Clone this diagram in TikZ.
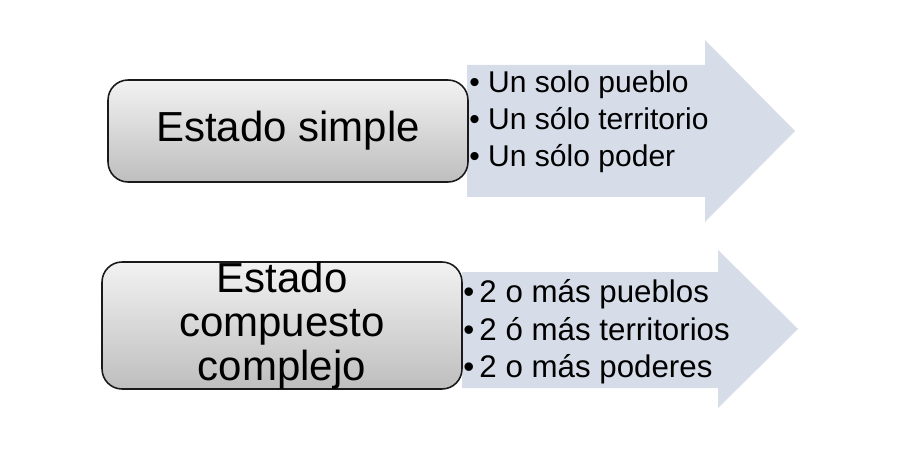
\documentclass[tikz,border=0pt]{standalone}
\usepackage{fontspec}
\setmainfont{Liberation Sans}
\definecolor{arrowfill}{HTML}{D6DCE8}
\definecolor{boxtop}{HTML}{F2F2F2}
\definecolor{boxbottom}{HTML}{BEBEBE}
\definecolor{boxline}{HTML}{1A1A1A}

\begin{document}
\begin{tikzpicture}[x=0.02cm, y=-0.02cm,
    estado/.style={draw=boxline, line width=0.9pt, rounded corners=0.4cm,
        top color=boxtop, bottom color=boxbottom, minimum width=7.2cm,
        align=center, inner sep=0pt, font=\fontsize{23.9}{25}\selectfont},
    item/.style={anchor=base west, inner sep=0pt,
        font=\fontsize{17.1}{21}\selectfont}]

    \useasboundingbox (0,0) rectangle (902,459);

    % arrows go first, the boxes sit on their tails
    \fill[arrowfill] (467,65) -- (705,65) -- (705,40) -- (795,131)
        -- (705,222) -- (705,197) -- (467,197) -- cycle;
    \fill[arrowfill] (462,272) -- (718,272) -- (718,250) -- (798,329)
        -- (718,408) -- (718,388) -- (462,388) -- cycle;

    \node[estado, minimum height=2.04cm] (simple) at (288,131) {Estado simple};
    \node[estado, minimum height=2.42cm] (compuesto) at (282,325.5)
        {Estado\\compuesto\\complejo};

    \foreach \txt [count=\i] in {Un solo pueblo, Un sólo territorio, Un sólo poder}
        \node[item] (simple\i) at (469,{56+37*\i}) {• \txt};

    \foreach \txt [count=\i] in {2 o más pueblos, 2 ó más territorios, 2 o más poderes}
        \node[item, font=\fontsize{17.8}{21}\selectfont] (compuesto\i)
            at (463,{265+37.5*\i}) {•\,\txt};

\end{tikzpicture}
\end{document}
